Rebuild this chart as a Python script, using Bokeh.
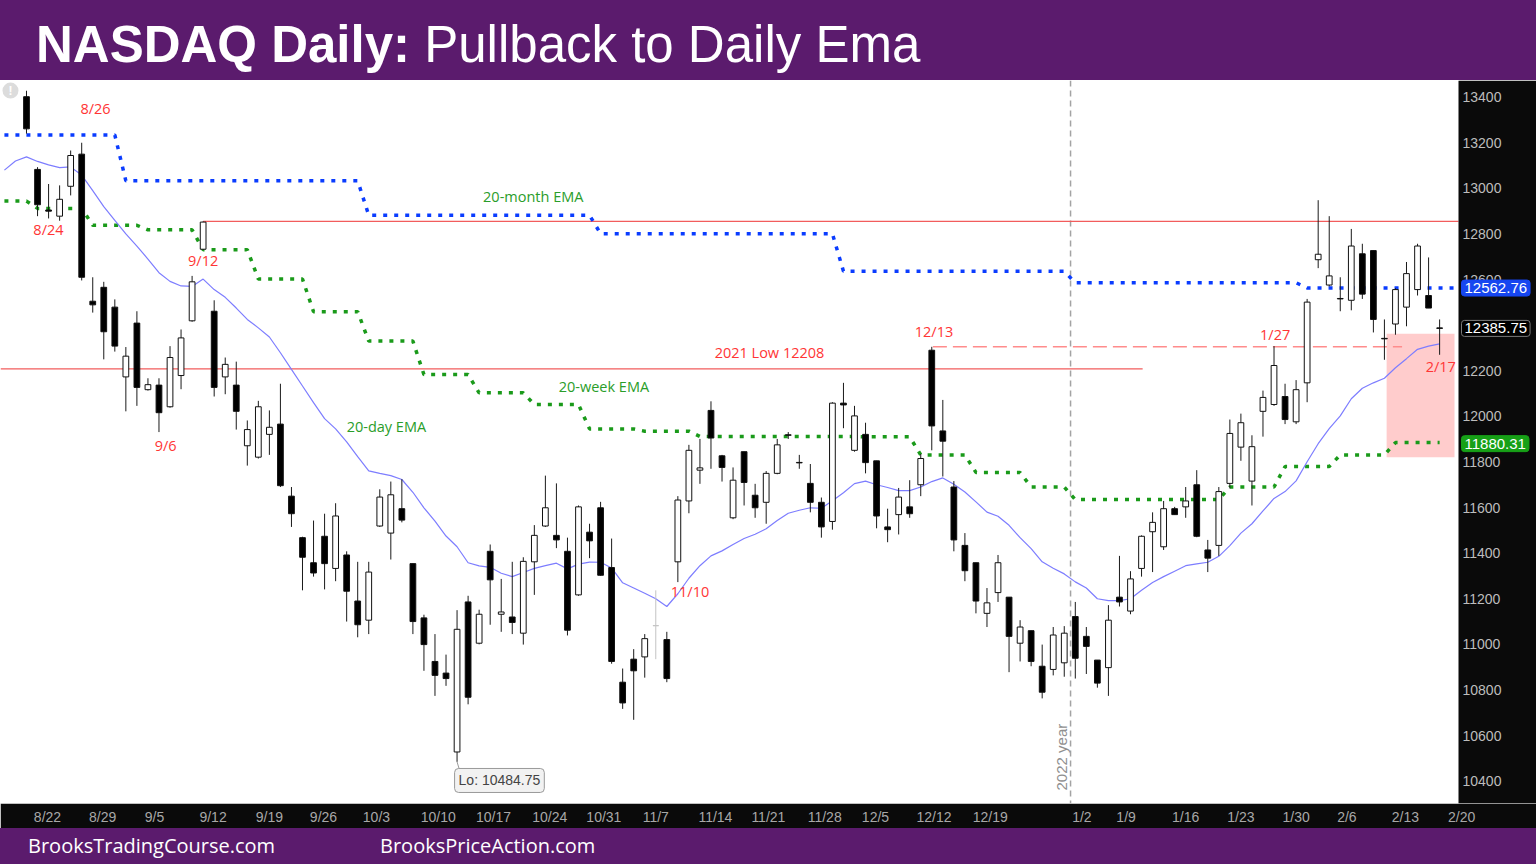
import math
from bokeh.plotting import figure
from bokeh.models import (ColumnDataSource, Range1d, FixedTicker, Label, BoxAnnotation, Span, Div)
from bokeh.layouts import column
from bokeh.embed import file_html
from bokeh.resources import INLINE
from bokeh.core.properties import value

# ---------------- data (NQ daily, 8/19/2022 .. 2/17/2023) ----------------
opens = [13402, 13083, 12905, 12878, 13009, 13150, 12505, 12566, 12479, 12173,
         12409, 12117, 12137, 12042, 12179, 12419, 12733, 12461, 12173, 12137,
         11871, 11821, 11921, 11966, 11650, 11468, 11358, 11474, 11333, 11392,
         11190, 11106, 11519, 11488, 11595, 11354, 11116, 10925, 10874, 10528,
         11186, 11005, 11408, 11132, 11120, 11049, 11362, 11519, 11478, 11408,
         11217, 11492, 11599, 11337, 10834, 10935, 10945, 11082, 11021, 11362,
         11629, 11764, 12026, 11827, 11555, 11845, 11654, 11623, 11750, 11919,
         11798, 11706, 11623, 11539, 12058, 11851, 11921, 11805, 11515, 11569,
         11603, 11700, 12290, 11936, 11690, 11434, 11358, 11136, 11227, 11207,
         11005, 11060, 10904, 10890, 10919, 11122, 11035, 10931, 10898, 11207,
         11146, 11333, 11494, 11428, 11595, 11603, 11700, 11414, 11434, 11706,
         11865, 11716, 12022, 12052, 12087, 11976, 12147, 12687, 12576, 12517,
         12509, 12713, 12727, 12342, 12405, 12479, 12556, 12530, 12388]
highs = [13428, 13093, 13019, 13013, 13166, 13200, 12610, 12590, 12513, 12304,
         12461, 12167, 12167, 12308, 12381, 12616, 12855, 12509, 12258, 12240,
         11982, 12068, 12026, 12143, 11690, 11472, 11543, 11573, 11619, 11408,
         11362, 11362, 11680, 11714, 11724, 11354, 11130, 11045, 10955, 11150,
         11213, 11152, 11438, 11287, 11362, 11382, 11523, 11740, 11706, 11468,
         11609, 11529, 11625, 11464, 10894, 10979, 11045, 11237, 11055, 11650,
         11875, 11901, 12066, 11831, 11776, 11845, 11704, 11760, 11901, 11931,
         11831, 11791, 11644, 12062, 12147, 12046, 11972, 11805, 11595, 11686,
         11720, 11835, 12305, 12072, 11716, 11488, 11358, 11247, 11392, 11207,
         11106, 11060, 10999, 11076, 11080, 11186, 11076, 10931, 11172, 11388,
         11321, 11478, 11579, 11629, 11603, 11690, 11764, 11458, 11690, 11986,
         12012, 11917, 12113, 12308, 12143, 12159, 12515, 12948, 12878, 12610,
         12822, 12757, 12727, 12425, 12562, 12677, 12757, 12697, 12425]
lows = [13240, 12878, 12868, 12858, 12969, 12596, 12455, 12250, 12284, 12022,
        12046, 12113, 11931, 12038, 12119, 12415, 12731, 12087, 12097, 11942,
        11784, 11815, 11831, 11690, 11515, 11237, 11297, 11241, 11277, 11100,
        11031, 11045, 11515, 11372, 11535, 11045, 10884, 10774, 10818, 10484.75,
        10737, 11000, 11086, 11055, 11045, 10999, 11217, 11515, 11422, 11039,
        11213, 11378, 11301, 10915, 10717, 10669, 10854, 10935, 10834, 11273,
        11575, 11704, 11770, 11714, 11549, 11609, 11555, 11529, 11746, 11901,
        11770, 11579, 11468, 11503, 11948, 11845, 11750, 11509, 11448, 11482,
        11555, 11650, 11851, 11736, 11408, 11277, 11136, 11076, 11186, 10878,
        10925, 10904, 10763, 10864, 10858, 10850, 10870, 10810, 10774, 11166,
        11132, 11297, 11317, 11414, 11569, 11555, 11470, 11317, 11388, 11684,
        11805, 11609, 11911, 12046, 11966, 11966, 12062, 12650, 12570, 12461,
        12465, 12515, 12368, 12248, 12358, 12395, 12530, 12475, 12270]
closes = [13261, 12928, 12900, 12952, 13144, 12610, 12489, 12371, 12308, 12264,
          12127, 12139, 12016, 12258, 12344, 12590, 12852, 12127, 12228, 12022,
          11942, 12042, 11952, 11696, 11573, 11382, 11313, 11354, 11563, 11233,
          11086, 11317, 11646, 11656, 11545, 11100, 10999, 10864, 10850, 11066,
          10768, 11132, 11283, 11142, 11096, 11364, 11478, 11599, 11458, 11062,
          11603, 11454, 11303, 10925, 10743, 10884, 11025, 11082, 10850, 11633,
          11851, 11774, 11905, 11776, 11720, 11710, 11599, 11750, 11875, 11917,
          11796, 11623, 11515, 12058, 12050, 12002, 11797, 11563, 11503, 11646,
          11573, 11815, 11958, 11891, 11458, 11323, 11190, 11182, 11358, 11035,
          11076, 10925, 10790, 11041, 11049, 10939, 10991, 10830, 11106, 11186,
          11287, 11474, 11535, 11595, 11569, 11629, 11474, 11378, 11670, 11925,
          11972, 11867, 12083, 12223, 11986, 12117, 12501, 12711, 12616, 12515,
          12747, 12536, 12425, 12340, 12556, 12626, 12747, 12475, 12385.75]
grey_bar = 57  # partial session bar drawn in light grey

# 20-day EMA, one reading per bar, starting two bars before the first visible bar
ema20_day = [13080, 13120,
             13138, 13118, 13103, 13091, 13094, 13058, 12990, 12920, 12860, 12800,
             12747, 12690, 12630, 12592, 12572, 12570, 12602, 12556, 12522, 12475,
             12425, 12388, 12348, 12279, 12206, 12133, 12060, 11990, 11945, 11888,
             11823, 11761, 11750, 11740, 11723, 11667, 11599, 11540, 11475, 11428,
             11358, 11344, 11338, 11312, 11297, 11315, 11333, 11345, 11356, 11331,
             11352, 11361, 11360, 11335, 11270, 11247, 11224, 11200, 11166, 11222,
             11290, 11345, 11388, 11410, 11438, 11464, 11483, 11507, 11543, 11575,
             11588, 11599, 11597, 11630, 11665, 11705, 11716, 11700, 11688, 11674,
             11674, 11690, 11714, 11730, 11702, 11668, 11625, 11580, 11562, 11522,
             11468, 11420, 11362, 11334, 11309, 11274, 11247, 11200, 11192, 11192,
             11200, 11237, 11271, 11297, 11321, 11345, 11353, 11360, 11386, 11433,
             11488, 11529, 11585, 11640, 11670, 11717, 11801, 11880, 11946, 12002,
             12077, 12123, 12147, 12167, 12213, 12253, 12294, 12308, 12318]

# 20-week EMA (one value per week) and bars in each week
week_ema = [12944, 12912, 12838, 12818, 12731, 12602, 12459, 12330, 12183, 12103,
            12052, 11945, 11935, 11912, 11912, 11912, 11910, 11831, 11754, 11690,
            11635, 11635, 11635, 11690, 11780, 11831, 11885]
week_bars = [3, 5, 5, 5, 5, 5, 5, 5, 5, 5,
             5, 5, 5, 5, 5, 5, 5, 5, 5, 4,
             4, 5, 5, 5, 5, 5, 5]

# 20-month EMA (one value per month) and bars in each month
month_ema = [13234, 13033, 12882, 12801, 12636, 12586, 12563]
month_bars = [11, 22, 21, 22, 21, 21, 15]

tick_labels = ["8/22", "8/29", "9/5", "9/12", "9/19", "9/26", "10/3", "10/10", "10/17",
               "10/24", "10/31", "11/7", "11/14", "11/21", "11/28", "12/5", "12/12",
               "12/19", "1/2", "1/9", "1/16", "1/23", "1/30", "2/6", "2/13", "2/20"]
tick_pos = [1.9, 6.9, 11.6, 16.9, 22.0, 26.9, 31.7, 37.3, 42.3, 47.4, 52.3, 57.0, 62.4,
            67.2, 72.3, 76.9, 82.2, 87.3, 95.6, 99.6, 105.0, 110.0, 115.0, 119.6, 124.9, 130.0]
price_ticks = [10400, 10600, 10800, 11000, 11200, 11400, 11600, 11800, 12000,
               12200, 12400, 12600, 12800, 13000, 13200, 13400]

low_2021 = 12208
high_9_12 = 12855
high_12_13 = 12305
last_close = 12385.75
month_ema_last = 12562.76
week_ema_last = 11880.31
low_10_13 = 10484.75

# ---------------- derived columns ----------------
N = len(closes)
xs = list(range(N))
tops = [max(o, c) for o, c in zip(opens, closes)]
bots = [min(o, c) for o, c in zip(opens, closes)]
fills = ["#ffffff" if c > o else "#000000" for o, c in zip(opens, closes)]
lines = ["#111111"] * N
wicks = ["#1a1a1a"] * N
fills[grey_bar] = "#e0e0e0"
lines[grey_bar] = "#c4c4c4"
wicks[grey_bar] = "#c4c4c4"
src = ColumnDataSource(dict(x=xs, top=tops, bot=bots, high=highs, low=lows,
                            fill=fills, line=lines, wick=wicks))

def expand(vals, counts, start):
    xx, yy = [], []
    i = start
    for v, n in zip(vals, counts):
        for _ in range(n):
            xx.append(i)
            yy.append(v)
            i += 1
    return xx, yy

wx, wy = expand(week_ema, week_bars, -2)
mx, my = expand(month_ema, month_bars, -2)
dx = list(range(-2, -2 + len(ema20_day)))

# ---------------- figure ----------------
PX = 11.04                      # pixels per bar
X0 = -2.355                     # left edge of the chart
XA = X0 + 1458 / PX             # where the price-scale panel starts
X1 = X0 + 1536 / PX             # right edge of the page
Y0, Y1 = 10302, 13473

p = figure(width=1536, height=748, x_range=Range1d(X0, X1), y_range=Range1d(Y0, Y1),
           y_axis_location=None, toolbar_location=None, output_backend="svg",
           min_border_left=0, min_border_right=0, min_border_top=0, min_border_bottom=25,
           background_fill_color="#ffffff", border_fill_color="#0a0a0a",
           outline_line_color=None, title=None)
p.grid.visible = False

p.xaxis.ticker = FixedTicker(ticks=tick_pos)
p.xaxis.major_label_overrides = {t: l for t, l in zip(tick_pos, tick_labels)}
p.xaxis.axis_line_color = None
p.xaxis.major_tick_line_color = None
p.xaxis.minor_tick_line_color = None
p.xaxis.major_tick_out = 0
p.xaxis.major_tick_in = 0
p.xaxis.major_label_text_font = "Liberation Sans"
p.xaxis.major_label_text_font_size = "14px"
p.xaxis.major_label_text_color = "#a8a8a8"
p.xaxis.major_label_standoff = 5

# highlight zone
p.add_layout(BoxAnnotation(left=123.2, right=129.35, top=12362, bottom=11821,
                           fill_color="#ff9a9a", fill_alpha=0.5, line_color=None,
                           level="underlay"))

# reference lines
p.segment(x0=[16], y0=[high_9_12], x1=[XA], y1=[high_9_12], line_color="#f25c5c", line_width=1.2)
p.segment(x0=[X0], y0=[low_2021], x1=[101.1], y1=[low_2021], line_color="#f25c5c", line_width=1.2)
p.segment(x0=[82.1], y0=[high_12_13], x1=[124.6], y1=[high_12_13], line_color="#ff8c8c",
          line_width=1.5, line_dash="14 6")
p.add_layout(Span(location=94.57, dimension="height", line_color="#a3a3a3",
                  line_dash="6 4", line_width=1.5, level="underlay"))

# EMAs
p.line(mx, my, line_color="#0a3cff", line_width=3.5, line_dash="4 7")
p.line(wx, wy, line_color="#1a9a1a", line_width=3.5, line_dash="4 7")
p.line(dx, ema20_day, line_color="#7d7dff", line_width=1.2)

# candles
p.segment(x0="x", y0="high", x1="x", y1="low", line_color="wick", line_width=1, source=src)
p.vbar(x="x", width=0.52, top="top", bottom="bot", fill_color="fill", line_color="line",
       line_width=1, source=src)

# Lo marker
p.segment(x0=[39], y0=[low_10_13], x1=[39.4], y1=[10420], line_color="#9a9a9a", line_width=1)
p.add_layout(Label(x=42.84, y=10403, text="Lo: 10484.75", text_align="center",
                   text_baseline="middle", text_font="Liberation Sans", text_font_size="14px",
                   text_color="#444444", background_fill_color="#f2f2f2",
                   border_line_color="#9a9a9a", border_radius=4, padding=4))

# top-left info icon
p.scatter(x=[-1.45], y=[13429], size=16, fill_color="#dcdcdc", line_color=None)
p.add_layout(Label(x=-1.45, y=13429, text="!", text_align="center", text_baseline="middle",
                   text_font="Liberation Sans", text_font_style="bold",
                   text_font_size="12px", text_color="#ffffff"))

# text annotations
red_notes = [("8/26", 6.25, 13350), ("8/24", 1.99, 12820), ("9/12", 16.0, 12684),
             ("9/6", 12.6, 11872), ("11/10", 60.1, 11232), ("12/13", 82.2, 12372),
             ("2021 Low 12208", 67.3, 12280), ("1/27", 113.1, 12359), ("2/17", 128.1, 12219)]
for t, x, y in red_notes:
    p.add_layout(Label(x=x, y=y, text=t, text_align="center", text_baseline="middle",
                       text_font="Open Sans", text_font_size="14.5px", text_color="#ff3535"))
green_notes = [("20-month EMA", 45.9, 12964), ("20-week EMA", 52.3, 12131),
               ("20-day EMA", 32.6, 11956)]
for t, x, y in green_notes:
    p.add_layout(Label(x=x, y=y, text=t, text_align="center", text_baseline="middle",
                       text_font="Open Sans", text_font_size="14.5px", text_color="#2a9d2a"))

p.add_layout(Label(x=94.57, y=10359, text="2022 year", angle=math.pi / 2, x_offset=-1,
                   text_align="left", text_baseline="bottom", text_font="Liberation Sans",
                   text_font_size="15px", text_color="#8f8f8f"))

# price scale panel on the right (black) with its labels
p.quad(left=[XA], right=[X1], bottom=[Y0], top=[Y1], fill_color="#0a0a0a", line_color=None)
p.text(x=[XA + 4 / PX] * len(price_ticks), y=price_ticks, text=[str(t) for t in price_ticks],
       text_align="left", text_baseline="middle", text_font=value("Liberation Sans"),
       text_font_size="14px", text_color="#bdbdbd")

# price tags on the price scale
tags = [(f"{month_ema_last:.2f}", month_ema_last, "#1646f0", "#1646f0"),
        (f"{last_close:.2f}", last_close, "#000000", "#7a7a7a"),
        (f"{week_ema_last:.2f}", week_ema_last, "#17a017", "#17a017")]
for t, y, bg, bd in tags:
    p.add_layout(Label(x=XA + 3 / PX, y=y, text=t, text_align="left", text_baseline="middle",
                       text_font="Liberation Sans", text_font_size="15px", text_color="#ffffff",
                       background_fill_color=bg, border_line_color=bd, border_radius=3,
                       padding=3))

PURPLE = "#5b1b6d"
title_div = Div(
    text=('<div style="position:relative;width:1536px;height:80px;background:%s;overflow:hidden;">'
          '<div style="position:absolute;left:36px;top:5px;height:75px;line-height:80px;'
          'white-space:nowrap;font-family:\'Liberation Sans\',Arial,sans-serif;font-size:51px;'
          'color:#ffffff;"><b>NASDAQ Daily:</b> Pullback to Daily Ema</div></div>') % PURPLE,
    width=1536, height=80, margin=0)
footer_div = Div(
    text=('<div style="position:relative;width:1536px;height:36px;background:%s;overflow:hidden;'
          'font-family:\'Open Sans\',sans-serif;font-size:20px;color:#ffffff;">'
          '<span style="position:absolute;left:28px;top:0;line-height:36px;">BrooksTradingCourse.com</span>'
          '<span style="position:absolute;left:380px;top:0;line-height:36px;">BrooksPriceAction.com</span>'
          '</div>') % PURPLE,
    width=1536, height=36, margin=0)

layout = column(title_div, p, footer_div, spacing=0)
open("out.html", "w").write(file_html(layout, INLINE))
